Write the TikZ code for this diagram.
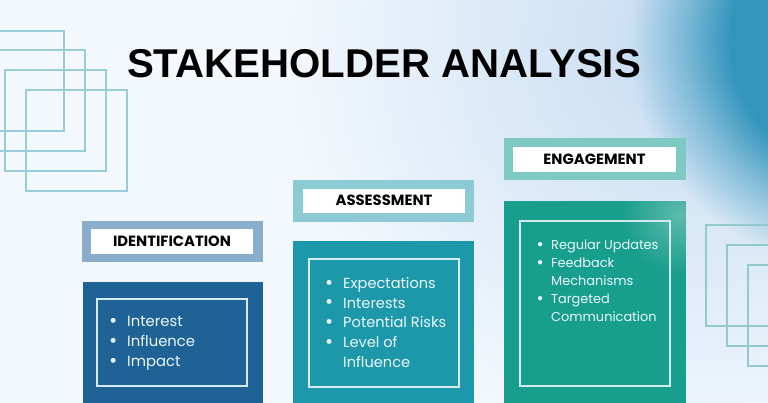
\documentclass[tikz,border=0pt]{standalone}
\usepackage{fontspec}
\setmainfont{Poppins}
\newfontfamily\titlefont{Liberation Sans}
\usetikzlibrary{fadings}
\definecolor{bgc}{HTML}{F3F8FD}
\definecolor{haloc}{HTML}{C6DCF2}
\definecolor{blobc}{HTML}{3395BC}
\definecolor{sqc}{HTML}{9ACBD8}
\definecolor{sqr}{HTML}{92C9CC}
\definecolor{idhead}{HTML}{88AECB}
\definecolor{idbody}{HTML}{1F6295}
\definecolor{ashead}{HTML}{8CCAD6}
\definecolor{asbody}{HTML}{1C98AA}
\definecolor{enhead}{HTML}{7ECAC3}
\definecolor{enbody}{HTML}{179E8C}
\definecolor{innerc}{HTML}{D6EAF0}
\tikzfading[name=softout, inner color=transparent!0, outer color=transparent!100]
\pgfdeclareradialshading{blobshade}{\pgfpointorigin}{color(0bp)=(white); color(14bp)=(white); color(19bp)=(white!50!black); color(25bp)=(black); color(50bp)=(black)}
\pgfdeclarefading{blobfade}{\pgfuseshading{blobshade}}
\tikzset{
  deco/.style={line width=1.1pt},
  headtext/.style={font=\fontsize{14.8}{16}\selectfont\bfseries, text=black},
  innerbox/.style={draw=innerc, line width=1.1pt},
  listtext/.style={text=white!92!cyan, anchor=north west, inner sep=0pt, align=left},
}
\newcommand{\blt}{\raisebox{-0.1ex}{\scalebox{1.35}{\textbullet}}}
\begin{document}
\begin{tikzpicture}[x=1pt,y=-1pt]
\useasboundingbox (0,0) rectangle (768,403);
\begin{scope}
\clip (0,0) rectangle (768,403);
\fill[bgc] (0,0) rectangle (768,403);
% halo and blob
\fill[haloc, path fading=softout] (700,40) circle (420);
\fill[blobc, path fading=blobfade] (860,40) circle (230);
% left squares
\draw[sqc, deco] (-36,31) rectangle (64,131);
\draw[sqc, deco] (-15,50) rectangle (85,151);
\draw[sqc, deco] (5,70) rectangle (106,171);
\draw[sqc, deco] (26,90) rectangle (127,191);
% right squares
\draw[sqr, deco] (706,225) rectangle (806,326);
\draw[sqr, deco] (727,245) rectangle (827,346);
\draw[sqr, deco] (748,265) rectangle (848,366);
\end{scope}

% title
\node[font=\titlefont\fontsize{40.2}{44}\selectfont\bfseries, text=black] (title) at (384,64) {STAKEHOLDER ANALYSIS};

% Identification
\fill[idhead] (82,221) rectangle (263,262);
\fill[white] (91,229) rectangle (253,254);
\node[headtext] (idh) at (172,241.5) {IDENTIFICATION};
\fill[idbody] (83,282) rectangle (263,403);
\draw[innerbox] (97,299) rectangle (247,386);
\node[listtext, font=\fontsize{14.8}{20}\selectfont] (idl) at (109,312)
  {\begin{tabular}{@{}p{18pt}@{}l@{}}\blt & Interest\\ \blt & Influence\\ \blt & Impact\end{tabular}};

% Assessment
\fill[ashead] (293,180) rectangle (474,222);
\fill[white] (303,189) rectangle (465,213);
\node[headtext] (ash) at (384,200.5) {ASSESSMENT};
\fill[asbody] (293,241) rectangle (474,403);
\draw[innerbox] (309,259) rectangle (459,387);
\node[listtext, font=\fontsize{14.6}{19.7}\selectfont] (asl) at (325,274.5)
  {\begin{tabular}{@{}p{18pt}@{}l@{}}\blt & Expectations\\ \blt & Interests\\ \blt & Potential Risks\\ \blt & Level of\\ & Influence\end{tabular}};

% Engagement
\fill[enhead] (504,138) rectangle (686,180);
\fill[white] (513,147) rectangle (676,172);
\node[headtext] (enh) at (594.5,159) {ENGAGEMENT};
\begin{scope}
\clip (504,201) rectangle (686,403);
\fill[enbody] (504,201) rectangle (686,403);
\fill[white, opacity=0.3, path fading=softout] (680,215) circle (60);
\end{scope}
\draw[innerbox] (520,221) rectangle (670,386);
\node[listtext, font=\fontsize{12.9}{18}\selectfont] (enl) at (536.5,237)
  {\begin{tabular}{@{}p{14.5pt}@{}l@{}}\blt & Regular Updates\\ \blt & Feedback\\ & Mechanisms\\ \blt & Targeted\\ & Communication\end{tabular}};
\end{tikzpicture}
\end{document}
